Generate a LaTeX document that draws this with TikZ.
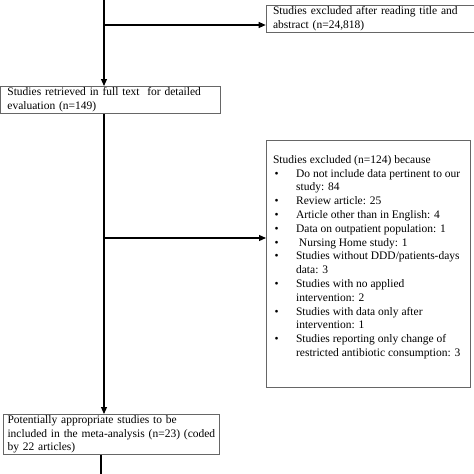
\documentclass[tikz,border=0pt]{standalone}
\usepackage{fontspec}
\setmainfont{Liberation Serif}
\usetikzlibrary{positioning, arrows.meta, calc}

% one bulleted reason, hanging indent
\newcommand\reason{\par\hangindent=23pt\hangafter=1\noindent\makebox[23pt][l]{\hskip1.5pt\textbullet}}

\begin{document}
\begin{tikzpicture}[
        x=1pt, y=-1pt,
        font=\fontsize{11.5pt}{13.5pt}\selectfont,
        box/.style={draw=black!60, line width=0.8pt, rectangle, align=left, inner xsep=7pt, inner ysep=1.5pt, anchor=north west},
        arrow/.style={-{Triangle[length=7pt, width=6pt]}, line width=1.1pt},
        line/.style={line width=1.1pt}
    ]

    \useasboundingbox (0,0) rectangle (474,474);

    \node[box, text width=193.8pt] (Screened) at (265.7,5) {Studies excluded after reading title and\\abstract (n=24,818)};
    \node[box, text width=205.7pt] (FullText) at (0,86) {Studies retrieved in full text~ for detailed\\evaluation (n=149)};
    \node[box, inner xsep=6.7pt, inner ysep=0pt] (Excluded) at (266,140) {%
        \begin{minipage}[t][247pt][t]{191pt}
        \fontsize{11.5pt}{13.8pt}\selectfont
        \vspace*{15pt}
        \noindent Studies excluded (n=124) because
        \reason Do not include data pertinent to our\newline study: 84
        \reason Review article: 25
        \reason Article other than in English: 4
        \reason Data on outpatient population: 1
        \reason \ Nursing Home study: 1
        \reason Studies without DDD/patients-days\newline data: 3
        \reason Studies with no applied\newline intervention: 2
        \reason Studies with data only after\newline intervention: 1
        \reason Studies reporting only change of\newline restricted antibiotic consumption: 3\par
        \end{minipage}};
    \node[box, text width=208pt, inner xsep=4.15pt] (Included) at (3,414) {Potentially appropriate studies to be\\included in the meta-analysis (n=23) (coded\\by 22 articles)};

    % trunk of the flow
    \coordinate (Start) at (104,0);
    \coordinate (Split1) at (104,25);
    \coordinate (Split2) at (104,238);
    \coordinate (End) at (101,474);

    \draw[arrow] (Start) -- (Start |- FullText.north);
    \draw[arrow] (Split1) -- (Split1 -| Screened.west);
    \draw[arrow] (Split2 |- FullText.south) -- (Split2 |- Included.north);
    \draw[arrow] (Split2) -- (Split2 -| Excluded.west);
    \draw[line] (End |- Included.south) -- (End);

\end{tikzpicture}
\end{document}
